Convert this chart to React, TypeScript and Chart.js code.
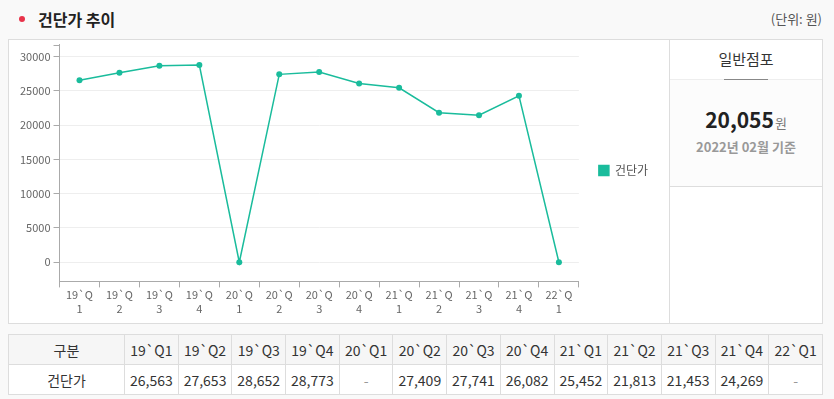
import React, { useEffect, useRef } from "react";
import { Chart, registerables } from "chart.js";

Chart.register(...registerables);

const FONT = "'Noto Sans CJK KR', 'Noto Sans', sans-serif";

const categories = ["19`Q1", "19`Q2", "19`Q3", "19`Q4", "20`Q1", "20`Q2", "20`Q3", "20`Q4", "21`Q1", "21`Q2", "21`Q3", "21`Q4", "22`Q1"];
const seriesName = "건단가";
const values: (number | null)[] = [26563, 27653, 28652, 28773, null, 27409, 27741, 26082, 25452, 21813, 21453, 24269, null];
const yTicks = [0, 5000, 10000, 15000, 20000, 25000, 30000];
const yMin = -2800;
const yMax = 31750;

const TEAL = "#1abc9c";

const outerTicks = {
  id: "outerTicks",
  afterDraw(chart: any) {
    const y = chart.scales.y;
    const ctx = chart.ctx;
    ctx.save();
    ctx.strokeStyle = "#aaa";
    ctx.lineWidth = 1;
    ctx.beginPath();
    ctx.moveTo(y.right - 6, Math.round(y.top) + 0.5);
    ctx.lineTo(y.right, Math.round(y.top) + 0.5);
    ctx.stroke();
    ctx.restore();
  },
};

function LineChart() {
  const ref = useRef<HTMLCanvasElement>(null);
  useEffect(() => {
    const chart = new Chart(ref.current!, {
      type: "line",
      data: {
        labels: categories.map((c) => [c.slice(0, 4), c.slice(4)]),
        datasets: [
          {
            label: seriesName,
            data: values.map((v) => (v == null ? 0 : v)),
            borderColor: TEAL,
            backgroundColor: TEAL,
            borderWidth: 1.5,
            pointRadius: 3,
            pointBackgroundColor: TEAL,
            pointBorderWidth: 0,
            tension: 0,
          },
        ],
      },
      options: {
        responsive: false,
        animation: false,
        layout: { padding: { left: 8, right: 11, top: 0, bottom: 0 } },
        plugins: {
          tooltip: { enabled: false },
          legend: {
            position: "right",
            fullSize: false,
            title: { display: true, text: "", font: { size: 1 }, padding: { top: 14, bottom: 0 } },
            labels: {
              boxWidth: 10,
              boxHeight: 10,
              color: "#555",
              padding: 20,
              font: { size: 12, family: FONT },
            },
          },
        },
        scales: {
          x: {
            offset: true,
            grid: { offset: true, drawOnChartArea: false, tickLength: 6, tickColor: "#aaa" },
            border: { color: "#aaa" },
            ticks: {
              color: "#666",
              autoSkip: false,
              maxRotation: 0,
              padding: 0,
              font: { size: 11, family: FONT, lineHeight: 1.3 },
            },
          },
          y: {
            min: yMin,
            max: yMax,
            afterBuildTicks: (axis: any) => {
              axis.ticks = yTicks.map((v) => ({ value: v }));
            },
            grid: { color: "#eee", tickColor: "#aaa", tickLength: 6 },
            border: { color: "#aaa" },
            ticks: {
              color: "#666",
              padding: 3,
              font: { size: 11, family: FONT },
              callback: (v: any) => String(v),
            },
          },
        },
      },
      plugins: [outerTicks],
    } as any);
    return () => chart.destroy();
  }, []);
  return (
    <canvas
      ref={ref}
      width={660}
      height={281}
      style={{ display: "block", position: "absolute", left: 0, top: -5 }}
    />
  );
}

export default function App() {
  const abs = (s: React.CSSProperties): React.CSSProperties => ({ position: "absolute", ...s });
  const cell: React.CSSProperties = {
    border: "1px solid #ddd",
    textAlign: "center",
    padding: 0,
    height: 29,
    fontSize: 14,
    color: "#333",
    whiteSpace: "nowrap",
  };
  return (
    <div style={{ position: "absolute", left: 0, top: 0, width: 834, height: 399, background: "#f9f9f9", fontFamily: FONT, overflow: "hidden" }}>
      <div style={abs({ left: 19, top: 16, width: 6, height: 6, borderRadius: 3, background: "#e8334a" })} />
      <div style={abs({ left: 38, top: 8, fontSize: 16, fontWeight: 700, color: "#222", lineHeight: "23px" })}>건단가 추이</div>
      <div style={abs({ right: 12, top: 9, fontSize: 13, color: "#555", lineHeight: "20px" })}>(단위: 원)</div>

      <div style={abs({ left: 8, top: 39, width: 662, height: 285, boxSizing: "border-box", border: "1px solid #ddd", background: "#fff" })}>
        <LineChart />
      </div>

      <div style={abs({ left: 670, top: 39, width: 153, height: 285, boxSizing: "border-box", borderTop: "1px solid #ddd", borderRight: "1px solid #ddd", borderBottom: "1px solid #ddd", background: "#fff" })}>
        <div style={{ height: 40, boxSizing: "border-box", borderBottom: "1px solid #eee", textAlign: "center", fontSize: 15, color: "#333", lineHeight: "38px", position: "relative" }}>
          일반점포
          <div style={{ position: "absolute", left: 54, width: 44, bottom: -1, height: 1, background: "#888" }} />
        </div>
        <div style={{ height: 107, boxSizing: "border-box", borderBottom: "1px solid #ddd", background: "#fcfcfc", textAlign: "center" }}>
          <div style={{ paddingTop: 25, lineHeight: "28px" }}>
            <span style={{ fontSize: 21, fontWeight: 700, color: "#222" }}>20,055</span>
            <span style={{ fontSize: 13, color: "#777", marginLeft: 1 }}>원</span>
          </div>
          <div style={{ fontSize: 13, fontWeight: 700, color: "#999", lineHeight: "20px", marginTop: 0 }}>2022년 02월 기준</div>
        </div>
      </div>

      <table style={abs({ left: 8, top: 334, width: 815, borderCollapse: "collapse", tableLayout: "fixed", background: "#fff", fontFamily: FONT })}>
        <colgroup>
          <col style={{ width: 116 }} />
          {categories.map((c) => (
            <col key={c} />
          ))}
        </colgroup>
        <tbody>
          <tr style={{ background: "#f6f6f6" }}>
            <td style={cell}>구분</td>
            {categories.map((c) => (
              <td key={c} style={cell}>{c}</td>
            ))}
          </tr>
          <tr>
            <td style={cell}>{seriesName}</td>
            {values.map((v, i) => (
              <td key={i} style={{ ...cell, color: v == null ? "#999" : "#333" }}>
                {v == null ? "-" : v.toLocaleString("en-US")}
              </td>
            ))}
          </tr>
        </tbody>
      </table>
    </div>
  );
}
